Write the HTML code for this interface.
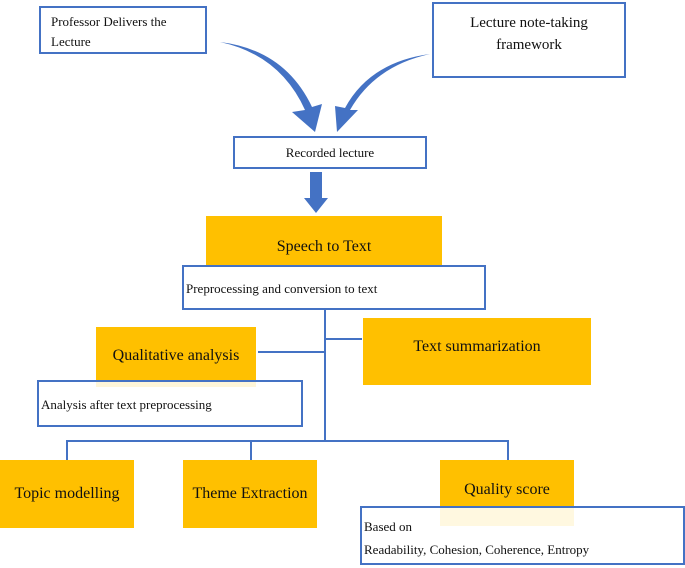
<!DOCTYPE html>
<html><head><style>
body{margin:0;width:685px;height:568px;background:#fff;position:relative;overflow:hidden;font-family:"Liberation Serif",serif;color:#111}
.b{position:absolute;box-sizing:border-box;border:2px solid #4472C4;background:#fff}
.y{position:absolute;background:#FFC000;display:flex;align-items:center;justify-content:center;font-size:16px}
.t{position:absolute;white-space:nowrap}
</style></head><body>
<svg width="685" height="568" style="position:absolute;left:0;top:0">
<g fill="#4472C4">
<path d="M220 42 Q280 55 305 110 L292 112 L315 132 L322 104 L312 107 Q285 50 220 42Z"/>
<path d="M430 54 Q370 62 345 108 L335 106 L337 132 L358 110 L350 110 Q375 66 430 54Z"/>
<path d="M310 172 H322 V198 H328 L316 213 L304 198 H310Z"/>
</g>
<g stroke="#4472C4" stroke-width="2" fill="none">
<path d="M325 310 V441"/><path d="M258 352 H325"/><path d="M325 339 H362"/>
<path d="M67 460 V441 H508 V460"/><path d="M251 441 V460"/>
</g>
</svg>
<div class="b" style="left:39px;top:6px;width:168px;height:48px"></div>
<div class="t" style="left:51px;top:12px;font-size:13px;line-height:20px">Professor Delivers the<br>Lecture</div>
<div class="b" style="left:432px;top:2px;width:194px;height:76px"></div>
<div class="t" style="left:432px;top:12px;width:194px;text-align:center;font-size:15px;line-height:22px">Lecture note-taking<br>framework</div>
<div class="b" style="left:233px;top:136px;width:194px;height:33px;display:flex;align-items:center;justify-content:center;font-size:13px">Recorded lecture</div>
<div class="y" style="left:206px;top:216px;width:236px;height:52px;align-items:flex-start;padding-top:22px;box-sizing:border-box">Speech to Text</div>
<div class="b" style="left:182px;top:265px;width:304px;height:45px"></div>
<div class="t" style="left:186px;top:281px;font-size:13px">Preprocessing and conversion to text</div>
<div class="y" style="left:96px;top:327px;width:160px;height:60px;align-items:flex-start;padding-top:20px;box-sizing:border-box">Qualitative analysis</div>
<div class="y" style="left:363px;top:318px;width:228px;height:67px;align-items:flex-start;padding-top:20px;box-sizing:border-box">Text summarization</div>
<div class="b" style="left:37px;top:380px;width:266px;height:47px;background:rgba(255,255,255,0.85)"></div>
<div class="t" style="left:41px;top:397px;font-size:13px">Analysis after text preprocessing</div>
<div class="y" style="left:0;top:460px;width:134px;height:68px">Topic modelling</div>
<div class="y" style="left:183px;top:460px;width:134px;height:68px">Theme Extraction</div>
<div class="y" style="left:440px;top:460px;width:134px;height:66px;align-items:flex-start;padding-top:21px;box-sizing:border-box">Quality score</div>
<div class="b" style="left:360px;top:506px;width:325px;height:59px;background:rgba(255,255,255,0.88)"></div>
<div class="t" style="left:364px;top:515px;font-size:13px;line-height:23px">Based on<br>Readability, Cohesion, Coherence, Entropy</div>
</body></html>
